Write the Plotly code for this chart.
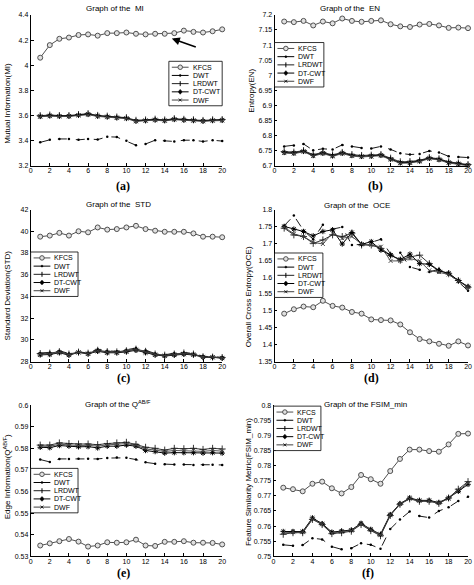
import plotly.graph_objects as go

W, H = 474, 585

x = list(range(1, 21))
series_names = ["KFCS", "DWT", "LRDWT", "DT-CWT", "DWF"]
x_ticks = [0, 2, 4, 6, 8, 10, 12, 14, 16, 18, 20]

# ---------------- (a) Mutual Information ----------------
mi_kfcs = [4.06, 4.16, 4.21, 4.22, 4.24, 4.245, 4.235, 4.255, 4.255, 4.26,
           4.25, 4.245, 4.25, 4.25, 4.255, 4.275, 4.265, 4.26, 4.27, 4.285]
mi_dwt = [3.388, 3.408, 3.415, 3.415, 3.408, 3.415, 3.410, 3.432, 3.430, 3.400,
          3.365, 3.375, 3.405, 3.400, 3.395, 3.405, 3.405, 3.395, 3.405, 3.398]
mi_lrdwt = [3.600, 3.605, 3.601, 3.601, 3.609, 3.616, 3.602, 3.596, 3.589, 3.584,
            3.563, 3.566, 3.572, 3.566, 3.576, 3.571, 3.567, 3.562, 3.567, 3.569]
mi_dtcwt = [3.595, 3.600, 3.597, 3.597, 3.605, 3.612, 3.598, 3.592, 3.585, 3.580,
            3.558, 3.562, 3.568, 3.562, 3.572, 3.567, 3.563, 3.558, 3.563, 3.565]
mi_dwf = [3.591, 3.596, 3.593, 3.593, 3.601, 3.607, 3.594, 3.588, 3.581, 3.576,
          3.555, 3.558, 3.564, 3.558, 3.568, 3.563, 3.559, 3.555, 3.559, 3.561]
mi_ticks = [3.2, 3.4, 3.6, 3.8, 4.0, 4.2, 4.4]
mi_ticktext = ["3.2", "3.4", "3.6", "3.8", "4", "4.2", "4.4"]

# ---------------- (b) Entropy ----------------
en_kfcs = [7.178, 7.176, 7.180, 7.165, 7.178, 7.172, 7.188, 7.180, 7.177, 7.180,
           7.182, 7.169, 7.162, 7.160, 7.168, 7.170, 7.165, 7.157, 7.158, 7.156]
en_dwt = [6.765, 6.768, 6.773, 6.752, 6.757, 6.755, 6.770, 6.765, 6.760, 6.758,
          6.765, 6.755, 6.742, 6.738, 6.740, 6.750, 6.745, 6.732, 6.730, 6.728]
en_lrdwt = [6.748, 6.746, 6.751, 6.738, 6.745, 6.737, 6.745, 6.738, 6.735, 6.736,
            6.738, 6.726, 6.714, 6.715, 6.719, 6.728, 6.724, 6.714, 6.710, 6.705]
en_dtcwt = [6.745, 6.743, 6.749, 6.735, 6.743, 6.734, 6.743, 6.735, 6.732, 6.733,
            6.736, 6.723, 6.711, 6.712, 6.717, 6.726, 6.722, 6.712, 6.708, 6.703]
en_dwf = [6.743, 6.741, 6.747, 6.733, 6.741, 6.732, 6.741, 6.733, 6.730, 6.731,
          6.734, 6.721, 6.709, 6.710, 6.715, 6.724, 6.720, 6.710, 6.706, 6.701]
en_ticks = [6.7, 6.75, 6.8, 6.85, 6.9, 6.95, 7.0, 7.05, 7.1, 7.15, 7.2]
en_ticktext = ["6.7", "6.75", "6.8", "6.85", "6.9", "6.95", "7", "7.05", "7.1", "7.15", "7.2"]

# ---------------- (c) Standard Deviation ----------------
std_kfcs = [39.5, 39.6, 39.85, 39.6, 40.0, 39.9, 40.35, 40.15, 40.2, 40.35,
            40.5, 40.2, 40.05, 39.95, 39.95, 39.95, 39.8, 39.5, 39.5, 39.45]
std_dwt = [28.8, 28.85, 29.0, 28.75, 28.9, 28.8, 29.15, 29.0, 28.95, 29.1,
           29.25, 29.05, 28.75, 28.62, 28.8, 28.85, 28.75, 28.5, 28.45, 28.4]
std_lrdwt = [28.75, 28.78, 28.92, 28.7, 28.88, 28.78, 29.05, 28.92, 28.9, 29.0,
             29.15, 28.95, 28.7, 28.6, 28.7, 28.8, 28.7, 28.45, 28.42, 28.38]
std_dtcwt = [28.62, 28.66, 28.82, 28.6, 28.85, 28.72, 28.95, 28.82, 28.82, 28.9,
             29.05, 28.82, 28.62, 28.52, 28.6, 28.68, 28.62, 28.42, 28.4, 28.32]
std_dwf = [28.68, 28.7, 28.86, 28.64, 28.86, 28.75, 29.0, 28.86, 28.85, 28.95,
           29.1, 28.88, 28.66, 28.56, 28.65, 28.72, 28.66, 28.44, 28.41, 28.35]
std_ticks = [28, 30, 32, 34, 36, 38, 40, 42]
std_ticktext = ["28", "30", "32", "34", "36", "38", "40", "42"]

# ---------------- (d) Overall Cross Entropy ----------------
oce_kfcs = [1.492, 1.505, 1.513, 1.511, 1.530, 1.515, 1.510, 1.497, 1.492, 1.475,
            1.473, 1.472, 1.460, 1.437, 1.417, 1.410, 1.403, 1.397, 1.410, 1.398]
oce_dwt = [1.752, 1.782, 1.738, 1.712, 1.755, 1.742, 1.748, 1.695, 1.697, 1.703,
           1.712, 1.668, 1.672, 1.630, 1.622, 1.615, 1.624, 1.610, 1.586, 1.560]
oce_lrdwt = [1.745, 1.725, 1.720, 1.700, 1.710, 1.725, 1.720, 1.730, 1.695, 1.695,
             1.685, 1.665, 1.650, 1.660, 1.665, 1.640, 1.620, 1.610, 1.590, 1.570]
oce_dtcwt = [1.750, 1.742, 1.735, 1.722, 1.735, 1.740, 1.698, 1.732, 1.697, 1.705,
             1.680, 1.665, 1.652, 1.668, 1.640, 1.638, 1.618, 1.612, 1.590, 1.572]
oce_dwf = [1.748, 1.728, 1.720, 1.703, 1.698, 1.730, 1.715, 1.720, 1.698, 1.695,
           1.690, 1.648, 1.648, 1.655, 1.648, 1.620, 1.615, 1.608, 1.588, 1.570]
oce_ticks = [1.35, 1.4, 1.45, 1.5, 1.55, 1.6, 1.65, 1.7, 1.75, 1.8]
oce_ticktext = ["1.35", "1.4", "1.45", "1.5", "1.55", "1.6", "1.65", "1.7", "1.75", "1.8"]

# ---------------- (e) Edge Information Q^AB/F ----------------
q_kfcs = [0.5350, 0.5360, 0.5370, 0.5380, 0.5368, 0.5345, 0.5350, 0.5365, 0.5363, 0.5365,
          0.5377, 0.5350, 0.5348, 0.5367, 0.5367, 0.5370, 0.5363, 0.5363, 0.5362, 0.5355]
q_dwt = [0.5748, 0.5737, 0.5751, 0.5751, 0.5752, 0.5752, 0.5751, 0.5755, 0.5757, 0.5756,
         0.5748, 0.5735, 0.5729, 0.5726, 0.5725, 0.5725, 0.5723, 0.5724, 0.5724, 0.5723]
q_lrdwt = [0.5815, 0.5815, 0.5825, 0.5822, 0.5820, 0.5820, 0.5817, 0.5822, 0.5825, 0.5828,
           0.5818, 0.5805, 0.5800, 0.5792, 0.5800, 0.5798, 0.5800, 0.5795, 0.5800, 0.5797]
q_dtcwt = [0.5805, 0.5803, 0.5813, 0.5810, 0.5807, 0.5808, 0.5802, 0.5810, 0.5810, 0.5815,
           0.5810, 0.5790, 0.5785, 0.5778, 0.5780, 0.5780, 0.5780, 0.5778, 0.5780, 0.5778]
q_dwf = [0.5810, 0.5809, 0.5819, 0.5816, 0.5813, 0.5814, 0.5810, 0.5816, 0.5818, 0.5822,
         0.5814, 0.5797, 0.5792, 0.5785, 0.5790, 0.5789, 0.5790, 0.5786, 0.5790, 0.5787]
q_ticks = [0.53, 0.54, 0.55, 0.56, 0.57, 0.58, 0.59, 0.6]
q_ticktext = ["0.53", "0.54", "0.55", "0.56", "0.57", "0.58", "0.59", "0.6"]

# ---------------- (f) FSIM_min ----------------
fs_kfcs = [0.7727, 0.7722, 0.7715, 0.7740, 0.7747, 0.7725, 0.7708, 0.7729, 0.7769, 0.7755,
           0.7740, 0.7782, 0.7822, 0.7853, 0.7853, 0.7848, 0.7846, 0.7870, 0.7905, 0.7906]
fs_dwt = [0.7538, 0.7535, 0.7537, 0.7560, 0.7556, 0.7532, 0.7523, 0.7527, 0.7543, 0.7538,
          0.7525, 0.7590, 0.7622, 0.7648, 0.7633, 0.7628, 0.7650, 0.7662, 0.7683, 0.7697]
fs_lrdwt = [0.7573, 0.7578, 0.7578, 0.7622, 0.7605, 0.7575, 0.7578, 0.7583, 0.7605, 0.7585,
            0.7568, 0.7635, 0.7672, 0.7690, 0.7682, 0.7682, 0.7675, 0.7693, 0.7722, 0.7747]
fs_dtcwt = [0.7582, 0.7582, 0.7582, 0.7627, 0.7608, 0.7580, 0.7584, 0.7587, 0.7609, 0.7589,
            0.7573, 0.7638, 0.7674, 0.7693, 0.7685, 0.7685, 0.7678, 0.7693, 0.7715, 0.7738]
fs_dwf = [0.7578, 0.7580, 0.7580, 0.7624, 0.7606, 0.7577, 0.7581, 0.7585, 0.7607, 0.7587,
          0.7570, 0.7636, 0.7673, 0.7691, 0.7683, 0.7683, 0.7676, 0.7691, 0.7718, 0.7742]
fs_ticks = [0.75, 0.755, 0.76, 0.765, 0.77, 0.775, 0.78, 0.785, 0.79, 0.795, 0.8]
fs_ticktext = ["0.75", "0.755", "0.76", "0.765", "0.77", "0.775", "0.78", "0.785", "0.79", "0.795", "0.8"]


# ---------------- helpers ----------------
def px(v):
    return v / W


def py(v):
    return 1 - v / H


# panel layout (pixel boxes: left, right, top, bottom)
panels = [
    dict(data=[mi_kfcs, mi_dwt, mi_lrdwt, mi_dtcwt, mi_dwf], rng=[3.2, 4.4],
         tv=mi_ticks, tt=mi_ticktext, box=(29, 223, 11, 164),
         title="Graph of the  MI", tpos=(114, 5), ylab="Mutual Information(MI)", ypos=(6, 100),
         sub="(a)", spos=(123, 184), leg=(169, 58, 54)),
    dict(data=[en_kfcs, en_dwt, en_lrdwt, en_dtcwt, en_dwf], rng=[6.7, 7.2],
         tv=en_ticks, tt=en_ticktext, box=(276, 472, 11, 164),
         title="Graph of the  EN", tpos=(352, 5), ylab="Entropy(EN)", ypos=(253, 88),
         sub="(b)", spos=(378, 184), leg=(276, 39, 50)),
    dict(data=[std_kfcs, std_dwt, std_lrdwt, std_dtcwt, std_dwf], rng=[28, 42],
         tv=std_ticks, tt=std_ticktext, box=(29, 223, 208, 362),
         title="Graph of the  STD", tpos=(118, 203), ylab="Standard Deviation(STD)", ypos=(6, 295),
         sub="(c)", spos=(123, 379), leg=(29, 251, 48)),
    dict(data=[oce_kfcs, oce_dwt, oce_lrdwt, oce_dtcwt, oce_dwf], rng=[1.35, 1.8],
         tv=oce_ticks, tt=oce_ticktext, box=(276, 472, 208, 362),
         title="Graph of the  OCE", tpos=(360, 204), ylab="Overall Cross Entropy(OCE)", ypos=(250, 296),
         sub="(d)", spos=(374, 379), leg=(276, 252, 49)),
    dict(data=[q_kfcs, q_dwt, q_lrdwt, q_dtcwt, q_dwf], rng=[0.53, 0.6],
         tv=q_ticks, tt=q_ticktext, box=(29, 223, 406, 559),
         title="Graph of the Q<sup>AB/F</sup>", tpos=(117, 405),
         ylab="Edge Information(Q<sup>AB/F</sup>)", ypos=(5, 478),
         sub="(e)", spos=(123, 576), leg=(29, 470, 48)),
    dict(data=[fs_kfcs, fs_dwt, fs_lrdwt, fs_dtcwt, fs_dwf], rng=[0.75, 0.8],
         tv=fs_ticks, tt=fs_ticktext, box=(275, 472, 406, 559),
         title="Graph of the FSIM_min", tpos=(368, 405),
         ylab="Feature Similarity Metric(FSIM_min)", ypos=(249, 484),
         sub="(f)", spos=(371, 576), leg=(275, 407, 48)),
]

styles = [
    dict(line=dict(color="#505050", width=1, dash="solid"),
         marker=dict(symbol="circle", size=5, color="#e0e0e0", line=dict(color="#505050", width=1))),
    dict(line=dict(color="black", width=0.9, dash="dash"),
         marker=dict(symbol="circle", size=2.5, color="black", line=dict(width=0))),
    dict(line=dict(color="#202020", width=0.9, dash="solid"),
         marker=dict(symbol="cross-thin", size=5, color="black", line=dict(color="#202020", width=0.9))),
    dict(line=dict(color="black", width=1, dash="solid"),
         marker=dict(symbol="asterisk", size=4.5, color="black", line=dict(color="black", width=1))),
    dict(line=dict(color="#404040", width=0.9, dash="solid"),
         marker=dict(symbol="x-thin", size=4, color="black", line=dict(color="#404040", width=0.9))),
]

tick_font = dict(family="Liberation Sans, Arial", size=7, color="black")
lab_font = dict(family="Liberation Sans, Arial", size=8, color="black")

fig = go.Figure()
layout = dict(width=W, height=H, margin=dict(l=0, r=0, t=0, b=0),
              paper_bgcolor="white", plot_bgcolor="white", showlegend=False)
annotations = []
shapes = []

for i, p in enumerate(panels, start=1):
    xa = "x" if i == 1 else f"x{i}"
    ya = "y" if i == 1 else f"y{i}"
    l, r, t, b = p["box"]
    for name, vals, st in zip(series_names, p["data"], styles):
        fig.add_trace(go.Scatter(x=x, y=vals, name=name, mode="lines+markers",
                                 line=st["line"], marker=st["marker"],
                                 xaxis=xa, yaxis=ya, cliponaxis=False))
    key = "" if i == 1 else str(i)
    layout["xaxis" + key] = dict(domain=[px(l), px(r)], anchor=ya, range=[0, 20],
                                 tickvals=x_ticks, ticks="inside", ticklen=3, tickwidth=0.8,
                                 tickcolor="black", showline=True, linecolor="black", linewidth=0.8,
                                 showgrid=False, zeroline=False, tickfont=tick_font,
                                 ticklabelstandoff=-2)
    layout["yaxis" + key] = dict(domain=[py(b), py(t)], anchor=xa, range=p["rng"],
                                 tickvals=p["tv"], ticktext=p["tt"], ticks="inside", ticklen=3,
                                 tickwidth=0.8, tickcolor="black", showline=True, linecolor="black",
                                 linewidth=0.8, showgrid=False, zeroline=False, tickfont=tick_font,
                                 ticklabelstandoff=0)
    # title
    annotations.append(dict(text=p["title"], x=px(p["tpos"][0]), y=py(p["tpos"][1]),
                            xref="paper", yref="paper", showarrow=False,
                            xanchor="center", yanchor="middle", font=lab_font))
    # y label
    annotations.append(dict(text=p["ylab"], x=px(p["ypos"][0]), y=py(p["ypos"][1]),
                            xref="paper", yref="paper", showarrow=False, textangle=-90,
                            xanchor="center", yanchor="middle", font=lab_font))
    # sublabel
    annotations.append(dict(text="<b>" + p["sub"] + "</b>", x=px(p["spos"][0]), y=py(p["spos"][1]),
                            xref="paper", yref="paper", showarrow=False,
                            xanchor="center", yanchor="middle",
                            font=dict(family="Liberation Serif, Times New Roman", size=12, color="black")))
    # manual legend box
    lx, ly, lw = p["leg"]
    lh = 45
    shapes.append(dict(type="rect", xref="paper", yref="paper",
                       x0=px(lx), x1=px(lx + lw), y0=py(ly + lh), y1=py(ly),
                       line=dict(color="black", width=0.8), fillcolor="white", layer="above"))
    for k, (name, st) in enumerate(zip(series_names, styles)):
        yy = ly + 6 + k * 8.3
        shapes.append(dict(type="line", xref="paper", yref="paper",
                           x0=px(lx + 3), x1=px(lx + 20), y0=py(yy), y1=py(yy),
                           line=dict(color=st["line"]["color"], width=1), layer="above"))
        cx = lx + 11.5
        if k == 0:
            shapes.append(dict(type="circle", xref="paper", yref="paper",
                               x0=px(cx - 2.3), x1=px(cx + 2.3), y0=py(yy + 2.3), y1=py(yy - 2.3),
                               line=dict(color="#505050", width=1), fillcolor="#e0e0e0", layer="above"))
        elif k == 1:
            shapes.append(dict(type="circle", xref="paper", yref="paper",
                               x0=px(cx - 1), x1=px(cx + 1), y0=py(yy + 1), y1=py(yy - 1),
                               line=dict(color="black", width=0.5), fillcolor="black", layer="above"))
        elif k == 2:
            shapes.append(dict(type="line", xref="paper", yref="paper",
                               x0=px(cx), x1=px(cx), y0=py(yy + 2.5), y1=py(yy - 2.5),
                               line=dict(color="black", width=1), layer="above"))
        elif k == 3:
            shapes.append(dict(type="circle", xref="paper", yref="paper",
                               x0=px(cx - 1.7), x1=px(cx + 1.7), y0=py(yy + 1.7), y1=py(yy - 1.7),
                               line=dict(color="black", width=0.5), fillcolor="black", layer="above"))
            shapes.append(dict(type="line", xref="paper", yref="paper",
                               x0=px(cx), x1=px(cx), y0=py(yy + 2.5), y1=py(yy - 2.5),
                               line=dict(color="black", width=1), layer="above"))
        else:
            shapes.append(dict(type="line", xref="paper", yref="paper",
                               x0=px(cx - 1.5), x1=px(cx + 1.5), y0=py(yy + 1.5), y1=py(yy - 1.5),
                               line=dict(color="black", width=0.8), layer="above"))
            shapes.append(dict(type="line", xref="paper", yref="paper",
                               x0=px(cx - 1.5), x1=px(cx + 1.5), y0=py(yy - 1.5), y1=py(yy + 1.5),
                               line=dict(color="black", width=0.8), layer="above"))
        annotations.append(dict(text=name, x=px(lx + 22), y=py(yy), xref="paper", yref="paper",
                                showarrow=False, xanchor="left", yanchor="middle",
                                font=dict(family="Liberation Sans, Arial", size=7, color="black")))

# arrow pointing at KFCS curve in (a)
annotations.append(dict(x=14.74, y=4.212, ax=17.4, ay=4.141, xref="x", yref="y",
                        axref="x", ayref="y", text="", showarrow=True, arrowhead=2,
                        arrowsize=1, arrowwidth=1.6, arrowcolor="black"))

layout["annotations"] = annotations
layout["shapes"] = shapes
fig.update_layout(**layout)
fig.write_html("out.html")
